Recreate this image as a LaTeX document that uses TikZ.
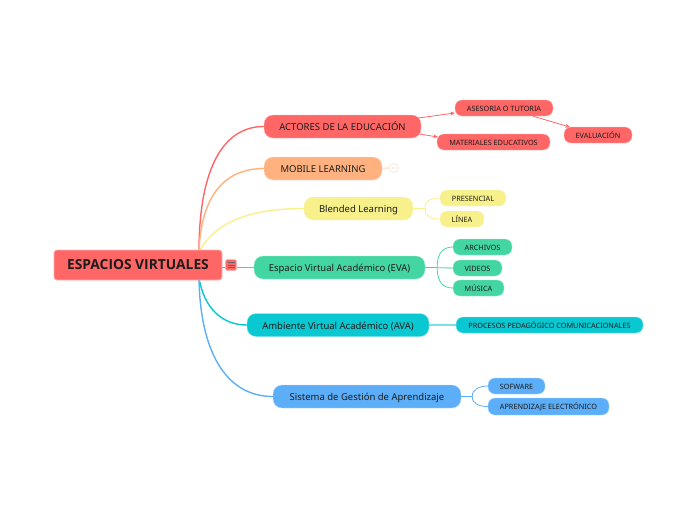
\documentclass[tikz,border=0pt]{standalone}
\usepackage{fontspec}
\setmainfont{Noto Sans}
\newfontfamily\rootfont{Open Sans}[BoldFont = {Open Sans Bold}]
\usetikzlibrary{arrows.meta}
\definecolor{redtopic}{HTML}{FF6666}
\definecolor{orangetopic}{HTML}{FFB27F}
\definecolor{yellowtopic}{HTML}{F7F08B}
\definecolor{greentopic}{HTML}{43D6A2}
\definecolor{cyantopic}{HTML}{0AC8D2}
\definecolor{bluetopic}{HTML}{5CAEF8}
\definecolor{inktext}{HTML}{1C1C1C}
\tikzset{
  pill/.style = {fill = #1, draw = #1!45!white, line width = 0.4pt, rounded corners = 9pt, inner sep = 0pt, minimum height = 23pt, text height = 9pt, text depth = 1pt, text = inktext, font = \fontsize{9.5}{12}\selectfont},
  subpill/.style = {fill = #1, draw = #1!45!white, line width = 0.4pt, rounded corners = 7pt, inner sep = 0pt, minimum height = 16pt, text height = 7pt, text depth = 1pt, text = inktext, font = \fontsize{7.3}{9}\selectfont},
  link/.style = {line width = 1.4pt, line cap = round},
  thinlink/.style = {line width = 0.8pt},
  arrowlink/.style = {line width = 0.8pt, color = redtopic, -{Stealth[length = 4.5pt, width = 4pt]}}
}
\begin{document}
\begin{tikzpicture}[x = 1pt, y = -1pt]

      \useasboundingbox (0, 0) rectangle (697, 520);

      % main topics
      \node[pill = redtopic, minimum width = 157pt] (actores) at (342.5, 126.5) {ACTORES DE LA EDUCACIÓN};
      \node[pill = orangetopic, minimum width = 118pt] (mobile) at (323, 168.5) {MOBILE LEARNING};
      \node[pill = yellowtopic, minimum width = 109pt] (blended) at (358.5, 208.5) {Blended Learning};
      \node[pill = greentopic, minimum width = 171pt] (eva) at (339.5, 267.5) {Espacio Virtual Académico (EVA)};
      \node[pill = cyantopic, minimum width = 182pt] (ava) at (338, 325) {Ambiente Virtual Académico (AVA)};
      \node[pill = bluetopic, minimum width = 188pt] (sistema) at (367, 396.5) {Sistema de Gestión de Aprendizaje};

      % subtopics
      \node[subpill = redtopic, minimum width = 98pt] (asesoria) at (504, 108) {ASESORIA O TUTORIA};
      \node[subpill = redtopic, minimum width = 113pt] (materiales) at (493.5, 142) {MATERIALES EDUCATIVOS};
      \node[subpill = redtopic, minimum width = 68pt] (evaluacion) at (598, 135) {EVALUACIÓN};
      \node[subpill = yellowtopic, minimum width = 66pt] (presencial) at (473, 198) {PRESENCIAL};
      \node[subpill = yellowtopic, minimum width = 44pt] (linea) at (462, 219) {LÍNEA};
      \node[subpill = greentopic, minimum width = 59pt] (archivos) at (482.5, 247) {ARCHIVOS};
      \node[subpill = greentopic, minimum width = 49pt] (videos) at (477.5, 268) {VIDEOS};
      \node[subpill = greentopic, minimum width = 51pt] (musica) at (478.5, 288) {MÚSICA};
      \node[subpill = cyantopic, minimum width = 187pt] (procesos) at (549.5, 325) {PROCESOS PEDAGÓGICO COMUNICACIONALES};
      \node[subpill = bluetopic, minimum width = 57pt] (sofware) at (516.5, 386) {SOFWARE};
      \node[subpill = bluetopic, minimum width = 121pt, minimum height = 17pt] (aprendizaje) at (548.5, 406.5) {APRENDIZAJE ELECTRÓNICO};

      % branches from the root
      \coordinate (roottop) at (199, 252);
      \coordinate (rootbottom) at (199, 278);
      \begin{scope}[link]
        \draw[redtopic] (roottop) .. controls (199, 165) and (225, 126.5) .. (actores.west);
        \draw[orangetopic] (roottop) .. controls (201, 195) and (225, 168.5) .. (mobile.west);
        \draw[yellowtopic] (roottop) .. controls (215, 222) and (250, 208.5) .. (blended.west);
        \draw[cyantopic] (rootbottom) .. controls (204, 308) and (222, 325) .. (ava.west);
        \draw[bluetopic] (rootbottom) .. controls (200, 350) and (225, 396.5) .. (sistema.west);
      \end{scope}

      % root
      \node[fill = redtopic, draw = redtopic!50!white, line width = 0.8pt, rounded corners = 3pt, inner sep = 0pt, minimum width = 168pt, minimum height = 30pt, text = inktext, font = \rootfont\fontsize{13.8}{16}\selectfont\bfseries] (root) at (138, 265) {ESPACIOS VIRTUALES};

      % branch to the centre topic, under the marker
      \draw[greentopic, link] (root.east |- eva.west) -- (eva.west);

      % markers
      \node[fill = redtopic, draw = redtopic!50!white, line width = 0.6pt, rounded corners = 1.5pt, minimum width = 11pt, minimum height = 11pt, inner sep = 0pt] (collapse) at (231, 265) {};
      \draw[line width = 0.9pt, color = black!60] (collapse.center) ++(-3.5, -2.2) -- ++(7, 0) ++(-7, 2.2) -- ++(7, 0) ++(-7, 2.2) -- ++(7, 0);
      \node[circle, draw = orangetopic!35!white, line width = 0.8pt, minimum size = 9pt, inner sep = 0pt] (mobilemark) at (393.5, 168) {};
      \fill[orangetopic!45!white] (mobilemark) circle (1.2pt);

      % branches between topics
      \draw[arrowlink] ([xshift = -3pt, yshift = 8.5pt]actores.east) -- ([yshift = -5pt]asesoria.west);
      \draw[arrowlink] ([xshift = -2pt, yshift = -7.5pt]actores.east) -- ([xshift = 1pt, yshift = 5pt]materiales.west);
      \draw[arrowlink] ([xshift = 29pt]asesoria.south) -- ([xshift = 6pt, yshift = 8pt]evaluacion.west);
      \draw[orangetopic!35!white, link] (mobile.east) -- (mobilemark.west);

      \draw[yellowtopic, link] (blended.east) -- ++(12, 0) coordinate (blendedfork);
      \draw[yellowtopic, thinlink] (blendedfork) .. controls (424, 201) and (431, 198) .. (presencial.west);
      \draw[yellowtopic, thinlink] (blendedfork) .. controls (424, 216) and (431, 219) .. (linea.west);

      \draw[greentopic, link] (eva.east) -- ++(12, 0) coordinate (evafork);
      \draw[greentopic!60!white, link] (evafork) -- (videos.west);
      \draw[greentopic, thinlink] (evafork) .. controls (437, 252) and (444, 247) .. (archivos.west);
      \draw[greentopic, thinlink] (evafork) .. controls (437, 283) and (444, 288) .. (musica.west);

      \draw[cyantopic!55!white, link] (ava.east) -- (procesos.west);

      \draw[bluetopic, link] (sistema.east) -- ++(11, 0) coordinate (sistemafork);
      \draw[bluetopic, thinlink] (sistemafork) .. controls (472, 389) and (480, 386) .. (sofware.west);
      \draw[bluetopic, thinlink] (sistemafork) .. controls (472, 404) and (480, 406.5) .. (aprendizaje.west);

    \end{tikzpicture}
\end{document}
